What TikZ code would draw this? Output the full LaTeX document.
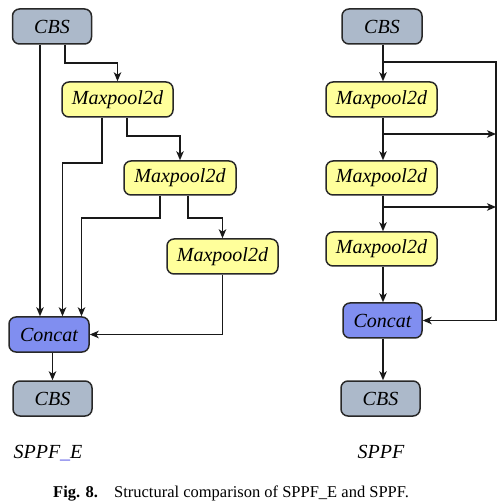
\documentclass[tikz,border=0pt]{standalone}
\usepackage{fontspec}
\setmainfont{Liberation Serif}
\usetikzlibrary{arrows.meta}
\definecolor{cbsfill}{RGB}{172,185,202}
\definecolor{mpfill}{RGB}{255,255,155}
\definecolor{catfill}{RGB}{128,142,240}
\definecolor{boxdraw}{RGB}{40,40,40}
\definecolor{ulblue}{RGB}{90,90,230}
\begin{document}
\begin{tikzpicture}[x=1pt,y=-1pt,
  box/.style={draw=boxdraw,line width=1.5pt,rounded corners=7pt,minimum height=35pt,inner sep=0pt,
    font=\fontsize{20}{24}\selectfont\itshape},
  cbsbox/.style={box,fill=cbsfill,minimum width=79pt},
  mpbox/.style={box,fill=mpfill,minimum width=111pt},
  catbox/.style={box,fill=catfill,minimum width=80pt},
  conn/.style={line width=1.8pt,draw=black!90},
  arr/.style={conn,-{Stealth[length=9pt,width=7.5pt,inset=2.5pt]}},
  lbl/.style={font=\fontsize{20}{24}\selectfont\itshape,anchor=base}
]
\useasboundingbox (0,0) rectangle (503,502);
% ---------- left: SPPF_E ----------
\node[cbsbox] (cbs1) at (52,26.5) {CBS};
\node[mpbox] (mp1) at (117.5,99.5) {Maxpool2d};
\node[mpbox,minimum width=112pt,minimum height=34pt] (mp2) at (180,178) {Maxpool2d};
\node[mpbox] (mp3) at (222.5,256.5) {Maxpool2d};
\node[catbox] (cat) at (49,334.5) {Concat};
\node[cbsbox] (cbs2) at (52.5,398.5) {CBS};
\coordinate (xa) at (40,0);
\coordinate (xb) at (65,0);
\coordinate (xc) at (102,0);
\coordinate (xd) at (62.5,0);
\coordinate (xe) at (127,0);
\coordinate (xf) at (81.5,0);
\coordinate (xg) at (160,0);
\coordinate (xh) at (188,0);
\draw[arr] (cbs1.south -| xa) -- (cat.north -| xa);
\draw[arr] (cbs1.south -| xb) -- ++(0,18) -| (mp1.north);
\draw[arr] (mp1.south -| xc) -- ++(0,45) -| (cat.north -| xd);
\draw[arr] (mp1.south -| xe) -- ++(0,18) -| (mp2.north);
\draw[arr] (mp2.south -| xg) -- ++(0,22) -| (cat.north -| xf);
\draw[arr] (mp2.south -| xh) -- ++(0,22) -| (mp3.north);
\draw[arr] (mp3.south) |- (cat.east);
\draw[arr] (cat.south -| cbs2.north) -- (cbs2.north);
\node[lbl] (lblE) at (48,458) {SPPF\textcolor{ulblue}{\_}E};
% ---------- right: SPPF ----------
\node[cbsbox,minimum width=80pt] (r1) at (382,26.5) {CBS};
\node[mpbox] (rm1) at (381.5,99.5) {Maxpool2d};
\node[mpbox,minimum height=34pt] (rm2) at (381.5,178) {Maxpool2d};
\node[mpbox,minimum height=34pt] (rm3) at (381.5,249) {Maxpool2d};
\node[catbox,minimum width=79pt] (rcat) at (382.5,320.5) {Concat};
\node[cbsbox] (rcbs2) at (380.5,398.5) {CBS};
\coordinate (xv) at (383,0);
\coordinate (rbus) at (496,0);
\coordinate (j0) at (383,62);
\coordinate (j1) at (383,134);
\coordinate (j2) at (383,207);
\draw[arr] (r1.south -| xv) -- (rm1.north -| xv);
\draw[arr] (rm1.south -| xv) -- (rm2.north -| xv);
\draw[arr] (rm2.south -| xv) -- (rm3.north -| xv);
\draw[arr] (rm3.south -| xv) -- (rcat.north -| xv);
\draw[arr] (rcat.south -| xv) -- (rcbs2.north -| xv);
\draw[arr] (j0) -| (rbus |- rcat.east) -- (rcat.east);
\draw[arr] (j1) -- (j1 -| rbus);
\draw[arr] (j2) -- (j2 -| rbus);
\node[lbl] (lblS) at (381,458) {SPPF};
% ---------- caption ----------
\node[font=\fontsize{16.5}{20}\selectfont,anchor=base west,inner sep=0pt] (cap) at (53,497)
  {\textbf{Fig. 8.}\hspace{16pt}Structural comparison of SPPF\_E and SPPF.};
\end{tikzpicture}
\end{document}
